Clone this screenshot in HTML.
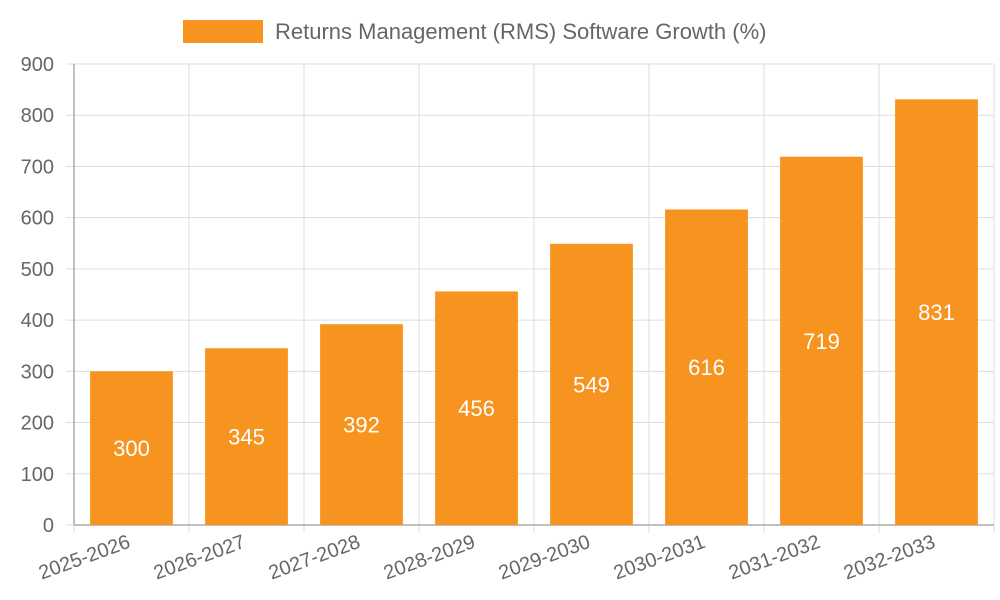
<!DOCTYPE html>
<html><head><meta charset="utf-8"><style>
html,body{margin:0;padding:0;background:#fff;width:1000px;height:600px;overflow:hidden}
svg{font-family:"Liberation Sans",sans-serif}
</style></head><body>
<svg id="chart" width="1000" height="600" xmlns="http://www.w3.org/2000/svg">
<g>
<rect x="183" y="20" width="80" height="23" fill="#f79420"/>
<text x="275" y="39" font-size="22" fill="#666">Returns Management (RMS) Software Growth (%)</text>
</g>
</svg>
<script>
const categories = ["2025-2026","2026-2027","2027-2028","2028-2029","2029-2030","2030-2031","2031-2032","2032-2033"];
const values = [300,345,392,456,549,616,719,831];
const yTicks = [0,100,200,300,400,500,600,700,800,900];

const NS="http://www.w3.org/2000/svg";
const svg=document.getElementById('chart');
const L=74,R=994,T=64,B=525,yMax=900;
const band=(R-L)/categories.length;
const y=v=>B-(v/yMax)*(B-T);
const x=i=>L+band*i;
function mk(tag,attrs,parent){const e=document.createElementNS(NS,tag);for(const k in attrs)e.setAttribute(k,attrs[k]);(parent||svg).appendChild(e);return e;}

const grid=mk('g',{});


yTicks.forEach(t=>{
  const l=mk('line',{x1:L-8,x2:R,y1:y(t),y2:y(t),stroke:'#ddd','stroke-width':1},grid);
  
  
  const tx=mk('text',{x:L-20,y:y(t)+7,'text-anchor':'end','font-size':20,fill:'#666'},grid);
  
  
  tx.textContent=t;
});
for(let i=0;i<=categories.length;i++){
  const l=mk('line',{x1:x(i),x2:x(i),y1:T,y2:B+8,stroke:'#ddd','stroke-width':1},grid);
  
  
}
const ax=mk('line',{x1:L,x2:L,y1:T,y2:B,stroke:'#aaa','stroke-width':1.5});


const bx=mk('line',{x1:L,x2:R,y1:B,y2:B,stroke:'#aaa','stroke-width':1.5});



const bw=band*0.72;
values.forEach((v,i)=>{
  const cx=x(i)+band/2;
  const r=mk('rect',{x:cx-bw/2,y:y(v),width:bw,height:B-y(v),fill:'#f79420'});
  
  
  const t=mk('text',{x:cx,y:(y(v)+B)/2+8,'text-anchor':'middle','font-size':22,fill:'#fff'});
  
  
  t.textContent=v;
  const c=mk('text',{x:cx,y:B+22,'text-anchor':'end','font-size':20,fill:'#666',transform:`rotate(-20 ${cx} ${B+22})`});
  
  
  c.textContent=categories[i];
});
</script>
</body></html>
